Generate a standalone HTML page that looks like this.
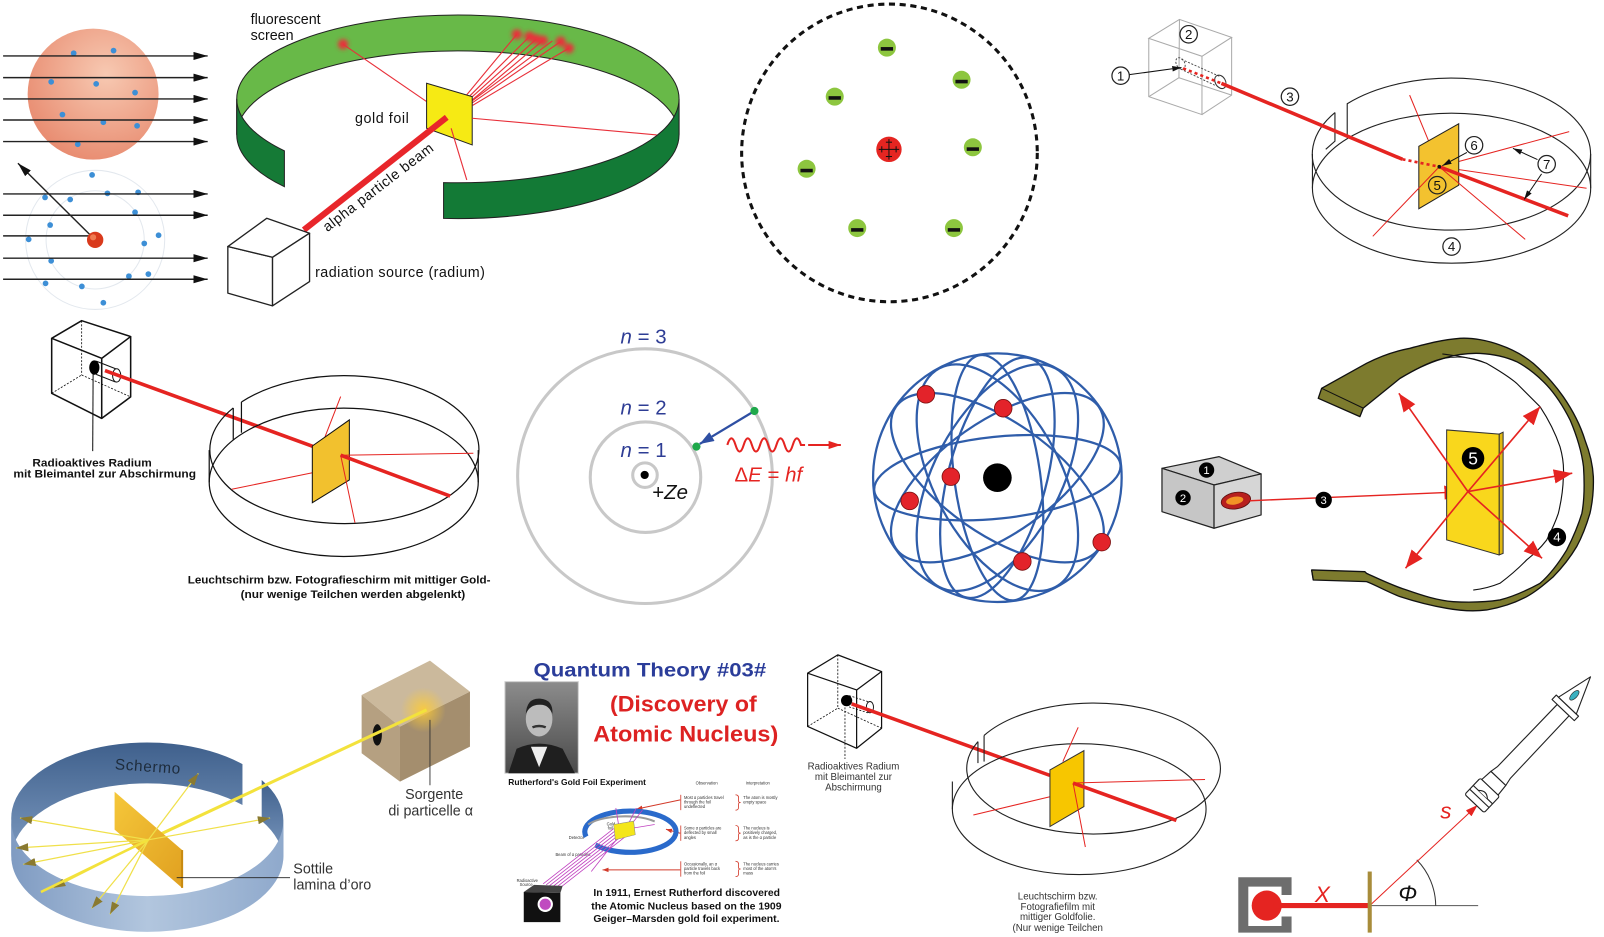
<!DOCTYPE html>
<html><head><meta charset="utf-8"><style>
html,body{margin:0;padding:0;background:#fff;}
svg{display:block;}
text{font-family:"Liberation Sans",sans-serif;}
</style></head><body>
<svg width="1604" height="937" viewBox="0 0 1568 916" xmlns="http://www.w3.org/2000/svg">
<defs>
 <radialGradient id="sph" cx="0.6" cy="0.35" r="0.75">
  <stop offset="0" stop-color="#f7c9b2"/><stop offset="1" stop-color="#e7866a"/>
 </radialGradient>
 <filter id="blur" x="-1" y="-1" width="3" height="3"><feGaussianBlur stdDeviation="2"/></filter>
 <marker id="ak" viewBox="0 0 14 8" refX="14" refY="4" markerWidth="14" markerHeight="8" orient="auto" markerUnits="userSpaceOnUse"><path d="M0,0 L14,4 L0,8 z" fill="#111"/></marker>
 <marker id="aks" viewBox="0 0 10 6" refX="10" refY="3" markerWidth="9" markerHeight="6" orient="auto" markerUnits="userSpaceOnUse"><path d="M0,0 L10,3 L0,6 z" fill="#111"/></marker>
 <marker id="ar" viewBox="0 0 18 14" refX="18" refY="7" markerWidth="18" markerHeight="14" orient="auto" markerUnits="userSpaceOnUse"><path d="M0,0 L18,7 L0,14 z" fill="#e52421"/></marker>
 <marker id="ars" viewBox="0 0 12 8" refX="12" refY="4" markerWidth="12" markerHeight="8" orient="auto" markerUnits="userSpaceOnUse"><path d="M0,0 L12,4 L0,8 z" fill="#e52421"/></marker>
 <marker id="ab" viewBox="0 0 14 10" refX="14" refY="5" markerWidth="14" markerHeight="10" orient="auto" markerUnits="userSpaceOnUse"><path d="M0,0 L14,5 L0,10 z" fill="#2e4fa3"/></marker>
 <marker id="ay" viewBox="0 0 12 8" refX="12" refY="4" markerWidth="12" markerHeight="8" orient="auto" markerUnits="userSpaceOnUse"><path d="M0,0 L12,4 L0,8 z" fill="#8a7a30"/></marker>
 <marker id="am" viewBox="0 0 8 6" refX="8" refY="3" markerWidth="6" markerHeight="5" orient="auto" markerUnits="userSpaceOnUse"><path d="M0,0 L8,3 L0,6 z" fill="#d23a2a"/></marker>
 <linearGradient id="backw" x1="0" y1="0" x2="0" y2="1"><stop offset="0" stop-color="#3f608c"/><stop offset="1" stop-color="#7f9cc2"/></linearGradient>
 <linearGradient id="frontw" x1="0" y1="0" x2="1" y2="0"><stop offset="0" stop-color="#7f9bc2"/><stop offset="0.5" stop-color="#b2c6de"/><stop offset="1" stop-color="#8fa9cc"/></linearGradient>
 <linearGradient id="goldI" x1="0" y1="0" x2="1" y2="1"><stop offset="0" stop-color="#f5c73a"/><stop offset="1" stop-color="#e0a020"/></linearGradient>
 <radialGradient id="glow"><stop offset="0" stop-color="#ffcc33"/><stop offset="1" stop-color="#ffcc33" stop-opacity="0"/></radialGradient>
 <linearGradient id="photo" x1="0" y1="0" x2="0" y2="1"><stop offset="0" stop-color="#8c8c8c"/><stop offset="1" stop-color="#4a4a4a"/></linearGradient>
</defs>

<!-- ============ PANEL A ============ -->
<g>
 <circle cx="91" cy="92" r="64" fill="url(#sph)"/>
 <g fill="#3d8fd6">
  <circle cx="72" cy="52" r="2.8"/><circle cx="111" cy="49.5" r="2.8"/><circle cx="50" cy="80" r="2.8"/>
  <circle cx="94" cy="82" r="2.8"/><circle cx="132" cy="90.5" r="2.8"/><circle cx="61" cy="112" r="2.8"/>
  <circle cx="101" cy="119.5" r="2.8"/><circle cx="134" cy="123" r="2.8"/><circle cx="76" cy="141" r="2.8"/>
 </g>
 <g fill="none" stroke="#e3e8ee" stroke-width="1">
  <circle cx="93" cy="234.5" r="48"/><circle cx="93" cy="234.5" r="68"/>
 </g>
 <g fill="#3d8fd6">
  <circle cx="90" cy="171" r="2.8"/><circle cx="105" cy="189" r="2.8"/><circle cx="135" cy="188" r="2.8"/>
  <circle cx="44" cy="193" r="2.8"/><circle cx="68.6" cy="195" r="2.8"/><circle cx="132" cy="207.5" r="2.8"/>
  <circle cx="49" cy="220" r="2.8"/><circle cx="155" cy="230" r="2.8"/><circle cx="28" cy="234" r="2.8"/>
  <circle cx="141" cy="238" r="2.8"/><circle cx="50" cy="255" r="2.8"/><circle cx="126" cy="270" r="2.8"/>
  <circle cx="145" cy="268" r="2.8"/><circle cx="44.5" cy="277" r="2.8"/><circle cx="80" cy="280" r="2.8"/>
  <circle cx="101" cy="296" r="2.8"/>
 </g>
 <g stroke="#222" stroke-width="1.4" marker-end="url(#ak)">
  <line x1="3" y1="54.7" x2="203" y2="54.7"/><line x1="3" y1="75.9" x2="203" y2="75.9"/>
  <line x1="3" y1="96.7" x2="203" y2="96.7"/><line x1="3" y1="117.3" x2="203" y2="117.3"/>
  <line x1="3" y1="138.4" x2="203" y2="138.4"/><line x1="3" y1="189.6" x2="203" y2="189.6"/>
  <line x1="3" y1="210.4" x2="203" y2="210.4"/><line x1="3" y1="252.4" x2="203" y2="252.4"/>
  <line x1="3" y1="273" x2="203" y2="273"/>
  <line x1="93" y1="234.5" x2="17.5" y2="159.6"/>
 </g>
 <line x1="3" y1="230.6" x2="92" y2="230.6" stroke="#222" stroke-width="1.4"/>
 <circle cx="93" cy="234.5" r="8" fill="#d93a1c"/>
 <circle cx="91" cy="232" r="3" fill="#f07a50"/>
</g>

<!-- ============ PANEL B ============ -->
<g>
 <path d="M231.4,96.7 A216.2 82 0 0 1 663.8,96.7 L663.8,131.7 A216.2 82 0 0 0 231.4,131.7 Z" fill="#68b948" stroke="#222" stroke-width="1"/>
 <path d="M231.4,96.7 A216.2 82 0 0 0 278,147.5 L278,182.5 A216.2 82 0 0 1 231.4,131.7 Z" fill="#157a36" stroke="#222" stroke-width="1"/>
 <g fill="#e8303a" filter="url(#blur)">
  <circle cx="335.4" cy="43.3" r="5"/><circle cx="505.2" cy="33.6" r="5"/><circle cx="517.5" cy="35.8" r="5"/>
  <circle cx="524" cy="38.4" r="5"/><circle cx="530.6" cy="39.7" r="5"/><circle cx="548" cy="40.7" r="5"/>
  <circle cx="556" cy="47.2" r="5"/>
 </g>
 <g stroke="#e8303a" stroke-width="1.1">
  <line x1="417" y1="99.3" x2="335.4" y2="43.3"/>
  <line x1="456" y1="93" x2="505.2" y2="33.6"/><line x1="458" y1="95" x2="517.5" y2="35.8"/>
  <line x1="459" y1="97" x2="524" y2="38.4"/><line x1="460" y1="99" x2="530.6" y2="39.7"/>
  <line x1="461" y1="101" x2="548" y2="40.7"/><line x1="462" y1="103" x2="556" y2="47.2"/>
  <line x1="461" y1="99" x2="540" y2="40"/>
 </g>
 <polygon points="417,81.4 461.6,94.5 461.6,141.7 417,125.4" fill="#f6ea14" stroke="#222" stroke-width="1"/>
 <g stroke="#e8303a" stroke-width="1.1">
  <line x1="461.6" y1="115.6" x2="642" y2="131.9"/>
  <line x1="441" y1="125.4" x2="456.3" y2="175.9"/>
 </g>
 <path d="M433.6,178.5 A216.2 82 0 0 0 663.8,96.7 L663.8,131.7 A216.2 82 0 0 1 433.6,213.5 Z" fill="#137a36" stroke="#222" stroke-width="1"/>
 <line x1="297" y1="224.8" x2="436.7" y2="114.7" stroke="#e8262b" stroke-width="6"/>
 <g fill="#fff" stroke="#222" stroke-width="1.3" stroke-linejoin="round">
  <polygon points="222.7,241 266.4,251.5 266.4,299 222.7,286.6"/>
  <polygon points="222.7,241 260.7,213.4 302.6,228 266.4,251.5"/>
  <polygon points="266.4,251.5 302.6,228 302.6,275.2 266.4,299"/>
 </g>
 <text x="245" y="23.5" font-size="14" fill="#111">fluorescent</text>
 <text x="245" y="39" font-size="14" fill="#111">screen</text>
 <text x="347" y="120" font-size="14" fill="#111" textLength="52.6">gold foil</text>
 <text x="308" y="271" font-size="14" fill="#111" textLength="166">radiation source (radium)</text>
 <text transform="translate(320,227) rotate(-37.5)" x="0" y="0" font-size="14" fill="#111" textLength="132">alpha particle beam</text>
</g>

<!-- ============ PANEL C ============ -->
<g>
 <ellipse cx="869.5" cy="149.5" rx="144.5" ry="145.5" fill="none" stroke="#111" stroke-width="3" stroke-dasharray="6 4.5"/>
 <g fill="#8dc63f">
  <circle cx="867" cy="46.6" r="8.8"/><circle cx="940" cy="78" r="8.8"/><circle cx="816" cy="94.5" r="8.8"/>
  <circle cx="951" cy="144" r="8.8"/><circle cx="788.5" cy="165" r="8.8"/><circle cx="838" cy="223" r="8.8"/>
  <circle cx="932.5" cy="223" r="8.8"/>
 </g>
 <g fill="#111">
  <rect x="861" y="46" width="12" height="3.5"/><rect x="934" y="78" width="12" height="3.5"/>
  <rect x="810" y="94" width="12" height="3.5"/><rect x="945" y="144" width="12" height="3.5"/>
  <rect x="782.5" y="165" width="12" height="3.5"/><rect x="832" y="223" width="12" height="3.5"/>
  <rect x="926.5" y="223" width="12" height="3.5"/>
 </g>
 <circle cx="869" cy="146" r="12.4" fill="#e52521"/>
 <g stroke="#111" stroke-width="1">
  <line x1="869" y1="136" x2="869" y2="156"/><line x1="859" y1="146" x2="879" y2="146"/>
  <line x1="866" y1="139" x2="872" y2="139"/><line x1="866" y1="153" x2="872" y2="153"/>
  <line x1="862" y1="143" x2="862" y2="149"/><line x1="876" y1="143" x2="876" y2="149"/>
 </g>
</g>

<!-- ============ PANEL D ============ -->
<g>
 <g fill="none" stroke="#aaa" stroke-width="1">
  <polygon points="1123,37.5 1153,19 1204,36.5 1175,55"/>
  <polyline points="1123,37.5 1123,94.5 1175,112 1175,55"/>
  <polyline points="1175,112 1204,93 1204,36.5"/>
  <polyline points="1153,19 1152.5,76 1123,94.5"/>
  <line x1="1152.5" y1="76" x2="1204" y2="93"/>
 </g>
 <g fill="none" stroke="#444" stroke-width="0.9" stroke-dasharray="2 1.5">
  <line x1="1155" y1="58" x2="1193" y2="75"/><line x1="1151" y1="66" x2="1189" y2="84"/>
  <ellipse cx="1154" cy="62" rx="4" ry="6" transform="rotate(-30 1154 62)"/>
 </g>
 <ellipse cx="1193" cy="80" rx="5" ry="7" transform="rotate(-30 1193 80)" fill="none" stroke="#333" stroke-width="1"/>
 <line x1="1156.6" y1="66.8" x2="1194" y2="81.5" stroke="#e52421" stroke-width="2.6" stroke-dasharray="3 3"/>
 <g fill="none" stroke="#222" stroke-width="1.1">
  <path d="M1317,101.4 A136 74.3 0 1 1 1305,110"/>
  <ellipse cx="1419" cy="184" rx="136" ry="73.3"/>
  <line x1="1283" y1="150.5" x2="1283" y2="184"/><line x1="1555" y1="150.5" x2="1555" y2="184"/>
  <polyline points="1305,110 1305,138 1296,146"/>
  <line x1="1317" y1="101" x2="1317" y2="134"/>
 </g>
 <line x1="1194" y1="81.5" x2="1371" y2="155.7" stroke="#e52421" stroke-width="3.5"/>
 <g stroke="#e52421" stroke-width="1">
  <line x1="1378" y1="93" x2="1407" y2="163"/>
  <line x1="1407" y1="163" x2="1534" y2="128.7"/>
  <line x1="1407" y1="163" x2="1551" y2="184"/>
 </g>
 <polygon points="1387,143 1426,121 1426,181 1387,204" fill="#f3c22f" stroke="#222" stroke-width="1"/>
 <line x1="1371" y1="155.7" x2="1407" y2="163" stroke="#e52421" stroke-width="2.6" stroke-dasharray="3 3"/>
 <g stroke="#e52421" stroke-width="1">
  <line x1="1407" y1="163" x2="1342" y2="231"/>
  <line x1="1407" y1="163" x2="1491" y2="234"/>
 </g>
 <line x1="1407" y1="163" x2="1533" y2="211" stroke="#e52421" stroke-width="3.5"/>
 <circle cx="1407" cy="163" r="1.8" fill="#111"/>
 <g stroke="#111" stroke-width="1" marker-end="url(#aks)" fill="none">
  <line x1="1104" y1="73" x2="1155" y2="66"/>
  <line x1="1434" y1="149" x2="1410" y2="162"/>
  <line x1="1503" y1="156" x2="1479" y2="145"/>
  <line x1="1507" y1="170" x2="1490" y2="195"/>
 </g>
 <g fill="#fff" stroke="#222" stroke-width="1.2">
  <circle cx="1095.5" cy="74" r="8.5"/><circle cx="1162" cy="33.5" r="8.5"/><circle cx="1261" cy="94.5" r="8.5"/>
  <circle cx="1419" cy="241" r="8.5"/><circle cx="1441" cy="142" r="8.5"/><circle cx="1512" cy="160.5" r="8.5"/>
 </g>
 <circle cx="1405" cy="181" r="8.5" fill="none" stroke="#222" stroke-width="1.2"/>
 <g font-size="13" fill="#111" text-anchor="middle">
  <text x="1095.5" y="78.5">1</text><text x="1162" y="38">2</text><text x="1261" y="99">3</text>
  <text x="1419" y="245.5">4</text><text x="1405" y="185.5">5</text><text x="1441" y="146.5">6</text>
  <text x="1512" y="165">7</text>
 </g>
</g>

<!-- ============ PANEL E ============ -->
<g>
 <g fill="none" stroke="#111" stroke-width="1.5" stroke-linejoin="round">
  <polygon points="50.5,330.7 79.8,313.5 127.7,329 99.4,350.3"/>
  <polyline points="50.5,330.7 50.5,384.5 99.4,409 99.4,350.3"/>
  <polyline points="99.4,409 127.7,388 127.7,329"/>
 </g>
 <g fill="none" stroke="#111" stroke-width="0.8" stroke-dasharray="2 1.5">
  <line x1="79.8" y1="313.5" x2="79.8" y2="366.6"/><line x1="50.5" y1="384.5" x2="79.8" y2="366.6"/>
  <line x1="79.8" y1="366.6" x2="127.7" y2="388"/>
 </g>
 <g fill="none" stroke="#111" stroke-width="1">
  <line x1="94" y1="353" x2="113" y2="360.5"/><line x1="94" y1="366" x2="113" y2="373.5"/>
  <ellipse cx="114" cy="367" rx="4" ry="6.5"/>
  <line x1="91" y1="366" x2="90.6" y2="441"/>
 </g>
 <ellipse cx="92.2" cy="359.3" rx="5" ry="7" fill="#000"/>
 <line x1="102.6" y1="362.3" x2="306.3" y2="436.6" stroke="#e52421" stroke-width="3.5"/>
 <g fill="none" stroke="#111" stroke-width="1.2">
  <path d="M236,393 A131.5 72.3 0 1 1 228,398.8"/>
  <ellipse cx="336" cy="471.5" rx="131.5" ry="72.5"/>
  <line x1="204.5" y1="440" x2="204.5" y2="471.5"/><line x1="467.5" y1="440" x2="467.5" y2="471.5"/>
  <line x1="228" y1="398.8" x2="228" y2="430"/><line x1="236" y1="393" x2="236" y2="423"/>
 </g>
 <g stroke="#e52421" stroke-width="1">
  <line x1="306" y1="462" x2="226.5" y2="478.3"/>
  <line x1="317.7" y1="427" x2="333" y2="387.7"/>
 </g>
 <polygon points="305.3,436 341.5,410.5 341.5,469.2 305.3,491.4" fill="#f2c12e" stroke="#111" stroke-width="1"/>
 <g stroke="#e52421" stroke-width="1">
  <line x1="333" y1="445" x2="462.7" y2="443.1"/>
  <line x1="333" y1="445" x2="347" y2="511"/>
 </g>
 <line x1="333" y1="445" x2="440" y2="484.9" stroke="#e52421" stroke-width="3.5"/>
 <g font-weight="bold" font-size="11" fill="#111" text-anchor="middle">
  <text x="90" y="456.2" textLength="116.7" lengthAdjust="spacingAndGlyphs">Radioaktives Radium</text>
  <text x="102.3" y="466.6" textLength="178.6" lengthAdjust="spacingAndGlyphs">mit Bleimantel zur Abschirmung</text>
  <text x="331.5" y="570.2" textLength="296" lengthAdjust="spacingAndGlyphs">Leuchtschirm bzw. Fotografieschirm mit mittiger Gold-</text>
  <text x="345" y="584.8" textLength="219.6" lengthAdjust="spacingAndGlyphs">(nur wenige Teilchen werden abgelenkt)</text>
 </g>
</g>

<!-- ============ PANEL F ============ -->
<g>
 <g fill="none" stroke="#c8c8c8" stroke-width="3">
  <circle cx="630.5" cy="465.5" r="124.5"/>
  <circle cx="631" cy="466.5" r="54"/>
  <circle cx="630.5" cy="464.5" r="12"/>
 </g>
 <circle cx="630.2" cy="464.3" r="4" fill="#000"/>
 <line x1="737.5" y1="401.8" x2="684" y2="434" stroke="#2e4fa3" stroke-width="2.2" marker-end="url(#ab)"/>
 <circle cx="737.5" cy="401.8" r="4" fill="#1ea84a"/>
 <circle cx="680.8" cy="436.6" r="4" fill="#1ea84a"/>
 <path d="M711,435 q4,-13 8,0 t8,0 t8,0 t8,0 t8,0 t8,0 t8,0 t8,0 t8,0 l4,0" fill="none" stroke="#e52421" stroke-width="2"/>
 <line x1="790" y1="435" x2="822" y2="435" stroke="#e52421" stroke-width="2" marker-end="url(#ars)"/>
 <g font-size="20" fill="#2e3d95">
  <text x="606.6" y="335.6"><tspan font-style="italic">n</tspan> = 3</text>
  <text x="606.6" y="405"><tspan font-style="italic">n</tspan> = 2</text>
  <text x="606.6" y="447"><tspan font-style="italic">n</tspan> = 1</text>
 </g>
 <text x="637.6" y="488" font-size="20" fill="#111">+<tspan font-style="italic">Ze</tspan></text>
 <text x="718" y="470.8" font-size="20" fill="#e52421">Δ<tspan font-style="italic">E</tspan> = <tspan font-style="italic">hf</tspan></text>
</g>

<!-- ============ PANEL G ============ -->
<g transform="translate(975,467)" fill="none" stroke="#2f5daa" stroke-width="2.2">
 <circle r="121.5"/>
 <ellipse rx="121" ry="40" transform="rotate(-6)"/>
 <ellipse rx="121" ry="55" transform="rotate(35)"/>
 <ellipse rx="121" ry="55" transform="rotate(-35)"/>
 <ellipse rx="121" ry="42" transform="rotate(82)"/>
 <ellipse rx="121" ry="48" transform="rotate(105)"/>
 <ellipse rx="121" ry="62" transform="rotate(62)"/>
 <ellipse rx="121" ry="62" transform="rotate(-62)"/>
</g>
<circle cx="975" cy="467" r="14" fill="#000"/>
<g fill="#e3232a" stroke="#7a1010" stroke-width="0.8">
 <circle cx="905.1" cy="385.5" r="8.6"/><circle cx="980.7" cy="399.1" r="8.6"/><circle cx="929.5" cy="466" r="8.6"/>
 <circle cx="889.3" cy="489.7" r="8.6"/><circle cx="999.4" cy="548.9" r="8.6"/><circle cx="1077" cy="530" r="8.6"/>
</g>

<!-- ============ PANEL H ============ -->
<g>
 <path d="M1292,379.6 L1335.9,355.2 C1350,348 1365,343 1378.3,340.5 C1395,336 1410,332 1427.2,330.7 C1440,330 1455,333 1466.3,337.3 C1480,342 1490,348 1498.9,355.2 C1510,365 1520,376 1528.2,387.8 C1538,402 1545,416 1549.4,430.1 C1554,442 1557,454 1557.6,466 C1558,478 1557,490 1554.3,501.8 C1551,513 1547,524 1541.3,534.4 C1535,545 1527,555 1518.5,563.8 C1510,571 1502,578 1492.4,583.3 C1480,590 1467,594 1453.3,596.3 C1440,598 1427,597 1414.2,594.7 C1398,592 1383,588 1368.6,583.3 C1355,578 1345,572 1335.9,568.6 L1283.8,567 L1282.2,557.2 L1334.3,558.9 L1335.9,560.5 C1348,566 1360,572 1375.1,576.8 C1390,582 1405,587 1420.7,588.2 C1435,589 1450,589 1466.3,586.5 C1480,583 1493,577 1505.5,570.2 C1515,562 1524,550 1531.6,537.6 C1538,525 1543,513 1546.4,501.8 C1549,488 1549,472 1548,456.2 C1546,440 1541,425 1534.9,410.6 C1528,397 1521,386 1512,376.4 C1503,367 1493,359 1482.7,353.6 C1470,348 1458,346 1446.9,345.5 C1434,345 1422,347 1411,350.4 C1395,355 1382,362 1368.6,369.9 L1332.7,399 L1329.4,407.3 L1288.7,389.4 Z" fill="#7d7b2e" stroke="#111" stroke-width="1.3" stroke-linejoin="round"/>
 <line x1="1292" y1="379.6" x2="1332.7" y2="399" stroke="#111" stroke-width="1"/>
 <line x1="1282.2" y1="557.2" x2="1283.8" y2="567" stroke="#111" stroke-width="1"/>
 <path d="M1368.6,369.9 C1385,360 1400,352 1411,350.4 C1425,348 1440,349 1453.3,355.2" fill="none" stroke="#111" stroke-width="0.8"/>
 <path d="M1410,346 C1425,348 1440,350 1453.3,355.2 C1465,362 1475,368 1482.7,374.8 C1492,384 1500,392 1505.5,397.6 C1515,412 1521,425 1525,436.7 C1528,447 1529,456 1528.3,466 C1528,480 1526,491 1523.4,501.8 C1520,512 1516,520 1512,527.9 C1505,537 1499,542 1492.4,547.4 C1485,555 1476,563 1466.3,570.2 C1457,574 1448,576 1440.2,576.8" fill="none" stroke="#111" stroke-width="1.1"/>
 <g stroke="#222" stroke-width="1.2" stroke-linejoin="round">
  <polygon points="1135.9,457.8 1191.8,446.4 1232.8,463.3 1186.8,474.1" fill="#cfcfcf"/>
  <polygon points="1135.9,457.8 1186.8,474.1 1186.8,516.4 1135.9,500.2" fill="#c6c6c6"/>
  <polygon points="1186.8,474.1 1232.8,463.3 1232.8,503.4 1186.8,516.4" fill="#d6d6d6"/>
 </g>
 <ellipse cx="1208.2" cy="489.4" rx="14.5" ry="8" fill="#b8201e" stroke="#5a1010" stroke-width="0.8" transform="rotate(-10 1208.2 489.4)"/>
 <ellipse cx="1207" cy="489.4" rx="8.5" ry="3.8" fill="#f29425" transform="rotate(-10 1207 489.4)"/>
 <line x1="1222" y1="489.5" x2="1430" y2="480.8" stroke="#e52421" stroke-width="1.4" marker-end="url(#ar)"/>
 <g stroke="#333" stroke-width="1">
  <polygon points="1465.5,424.4 1469.4,422.5 1469.4,541 1465.5,542.5" fill="#e0b810"/>
  <polygon points="1414.2,420.3 1465.5,424.4 1465.5,542.5 1414.2,527.8" fill="#f9d71c"/>
 </g>
 <g stroke="#e52421" stroke-width="1.6" marker-end="url(#ar)">
  <line x1="1435" y1="480.6" x2="1367.5" y2="384.5"/>
  <line x1="1435" y1="480.6" x2="1505.6" y2="397.5"/>
  <line x1="1435" y1="480.6" x2="1537" y2="462.6"/>
  <line x1="1435" y1="480.6" x2="1507.5" y2="545.8"/>
  <line x1="1435" y1="480.6" x2="1374" y2="555.5"/>
 </g>
 <g fill="#000">
  <circle cx="1179.5" cy="459.5" r="7.5"/><circle cx="1156.5" cy="486.6" r="7.5"/>
  <circle cx="1294" cy="488.7" r="8"/><circle cx="1522" cy="525" r="9"/><circle cx="1440" cy="448" r="11"/>
 </g>
 <g fill="#fff" text-anchor="middle">
  <text x="1179.5" y="463.5" font-size="11">1</text><text x="1156.5" y="490.6" font-size="11">2</text>
  <text x="1294" y="492.8" font-size="11">3</text><text x="1522" y="529.5" font-size="13">4</text>
  <text x="1440" y="454" font-size="17">5</text>
 </g>
</g>

<!-- ============ PANEL I ============ -->
<g>
 <path d="M11,802 A133 74 0 0 1 237,747 L237,787 A133 74 0 0 0 11,842 Z" fill="url(#backw)"/>
 <path d="M255.8,762.5 A133 74 0 0 1 277,802 L277,842 A133 74 0 0 0 255.8,802.5 Z" fill="url(#backw)"/>
 <circle cx="413.8" cy="694" r="28" fill="url(#glow)"/>
 <g stroke-linejoin="round">
  <polygon points="353.5,679.4 420.3,645.8 459.4,676.1 391,710.3" fill="#cbb99c"/>
  <polygon points="353.5,679.4 391,710.3 391,764.1 353.5,736.4" fill="#b5a081"/>
  <polygon points="391,710.3 459.4,676.1 459.4,729.9 391,764.1" fill="#a48e6e"/>
 </g>
 <circle cx="413.8" cy="694" r="22" fill="url(#glow)" opacity="0.85"/>
 <ellipse cx="368.8" cy="718.4" rx="4.5" ry="10.5" fill="#111"/>
 <line x1="420.3" y1="703.8" x2="420.3" y2="767.6" stroke="#333" stroke-width="0.9"/>
 <line x1="417" y1="694" x2="145" y2="821" stroke="#f3e23c" stroke-width="3"/>
 <polygon points="112,774 178,831 178,868 112,811" fill="url(#goldI)"/>
 <line x1="178" y1="831" x2="178" y2="868" stroke="#c88a10" stroke-width="2"/>
 <path d="M11,802 A133 74 0 0 0 277,802 L277,837 A133 74 0 0 1 11,837 Z" fill="url(#frontw)"/>
 <g stroke="#f0e04a" stroke-width="1.2" fill="none" marker-end="url(#ay)">
  <line x1="145" y1="821" x2="193.9" y2="756"/>
  <line x1="145" y1="821" x2="19.5" y2="799.7"/>
  <line x1="145" y1="821" x2="264" y2="799.7"/>
  <line x1="145" y1="821" x2="15.6" y2="829"/>
  <line x1="145" y1="821" x2="22.8" y2="845"/>
  <line x1="145" y1="821" x2="52" y2="868"/>
  <line x1="145" y1="821" x2="89.6" y2="888"/>
  <line x1="145" y1="821" x2="107.5" y2="893.8"/>
 </g>
 <line x1="145" y1="821" x2="40" y2="872" stroke="#f3e23c" stroke-width="2.5"/>
 <line x1="172.7" y1="858" x2="283.5" y2="858" stroke="#222" stroke-width="0.9"/>
 <text transform="translate(112,752) rotate(4)" font-size="15" fill="#1e2c3c" textLength="64">Schermo</text>
 <g font-size="14" fill="#333">
  <text x="396" y="781">Sorgente</text>
  <text x="379.6" y="797">di particelle α</text>
  <text x="286.7" y="854">Sottile</text>
  <text x="286.7" y="869.5">lamina d’oro</text>
 </g>
</g>

<!-- ============ PANEL J ============ -->
<g>
 <text x="521.5" y="661.5" font-size="19" font-weight="bold" fill="#2b3d9a" textLength="227.5" lengthAdjust="spacingAndGlyphs">Quantum Theory #03#</text>
 <text x="596.3" y="695.7" font-size="22" font-weight="bold" fill="#dd2222" textLength="143.4" lengthAdjust="spacingAndGlyphs">(Discovery of</text>
 <text x="579.9" y="725" font-size="22" font-weight="bold" fill="#dd2222" textLength="180.9" lengthAdjust="spacingAndGlyphs">Atomic Nucleus)</text>
 <rect x="493.6" y="666.4" width="71.7" height="89.5" fill="url(#photo)" stroke="#ccc" stroke-width="1"/>
 <path d="M497,755.9 L505,732 Q527,722 550,732 L562,755.9 Z" fill="#1f1f1f"/>
 <polygon points="519,730 535,730 527,750" fill="#eee"/>
 <ellipse cx="527" cy="703" rx="13" ry="17" fill="#bcbcbc"/>
 <path d="M514,698 Q515,682 528,683 Q541,684 540,698 Q536,688 527,689 Q518,689 514,698 Z" fill="#222"/>
 <path d="M520,710 Q527,707 534,710 L533,712 Q527,710 521,712 Z" fill="#333"/>
 <text x="496.9" y="767.4" font-size="8.5" font-weight="bold" fill="#111" textLength="134.6" lengthAdjust="spacingAndGlyphs">Rutherford's Gold Foil Experiment</text>
 <g font-size="4" fill="#333">
  <text x="680" y="767">Observation</text><text x="729" y="767">Interpretation</text>
  <text x="668.6" y="781">Most α particles travel</text><text x="668.6" y="785.5">through the foil</text><text x="668.6" y="790">undeflected</text>
  <text x="726.6" y="781">The atom is mostly</text><text x="726.6" y="785.5">empty space</text>
  <text x="668.6" y="811">Some α particles are</text><text x="668.6" y="815.5">deflected by small</text><text x="668.6" y="820">angles</text>
  <text x="726.6" y="811">The nucleus is</text><text x="726.6" y="815.5">positively charged,</text><text x="726.6" y="820">as is the α particle</text>
  <text x="668.6" y="846">Occasionally, an α</text><text x="668.6" y="850.5">particle travels back</text><text x="668.6" y="855">from the foil</text>
  <text x="726.6" y="846">The nucleus carries</text><text x="726.6" y="850.5">most of the atom's</text><text x="726.6" y="855">mass</text>
  <text x="556" y="820">Detector</text><text x="543" y="837">Beam of α particles</text>
  <text x="505" y="862">Radioactive</text><text x="508" y="866">Source</text>
  <text x="593" y="807">Gold</text><text x="594" y="811">foil</text>
 </g>
 <g fill="none" stroke="#d23a2a" stroke-width="0.8">
  <line x1="665.5" y1="777" x2="665.5" y2="792"/><line x1="665.5" y1="807" x2="665.5" y2="822"/><line x1="665.5" y1="842" x2="665.5" y2="857"/>
  <path d="M719,777 q3,0 3,3 v3 q0,1.5 2,1.5 q-2,0 -2,1.5 v3 q0,3 -3,3"/>
  <path d="M719,807 q3,0 3,3 v3 q0,1.5 2,1.5 q-2,0 -2,1.5 v3 q0,3 -3,3"/>
  <path d="M719,842 q3,0 3,3 v3 q0,1.5 2,1.5 q-2,0 -2,1.5 v3 q0,3 -3,3"/>
 </g>
 <g stroke="#d23a2a" stroke-width="1" marker-end="url(#am)">
  <line x1="665" y1="782" x2="622" y2="791"/>
  <line x1="665" y1="814.6" x2="651" y2="810.7"/>
  <line x1="665" y1="850.4" x2="589" y2="850.4"/>
 </g>
 <path d="M573,818 A44.6 20.2 0 1 1 582,826" fill="none" stroke="#2a6acb" stroke-width="5"/>
 <path d="M575,806 A40 15 0 0 1 640,803" fill="none" stroke="#9a9a9a" stroke-width="2"/>
 <g stroke="#c040c0" stroke-width="0.8">
  <line x1="531" y1="864" x2="600" y2="810"/><line x1="534" y1="865" x2="603" y2="811"/>
  <line x1="537" y1="866" x2="606" y2="812"/><line x1="540" y1="867" x2="609" y2="813"/>
  <line x1="543" y1="868" x2="612" y2="814"/><line x1="546" y1="869" x2="615" y2="815"/>
  <line x1="612" y1="810" x2="622" y2="790"/><line x1="614" y1="810" x2="628" y2="792"/>
  <line x1="616" y1="810" x2="640" y2="806"/><line x1="608" y1="814" x2="578" y2="852"/>
  <line x1="605" y1="808" x2="602" y2="790"/>
 </g>
 <polygon points="599.9,806 619.4,802.7 621,816 601.5,821" fill="#f4e61a" stroke="#888" stroke-width="0.5"/>
 <polygon points="512,872 522,865 550,866 547.8,873" fill="#444"/>
 <polygon points="512,872 547.8,873 547.8,901.5 512,901.5" fill="#111"/>
 <circle cx="533" cy="884" r="7.5" fill="#fff"/>
 <circle cx="533" cy="884" r="5.5" fill="#c04ac0"/>
 <g font-size="10" font-weight="bold" fill="#111">
  <text x="580" y="875.9" textLength="182.5" lengthAdjust="spacingAndGlyphs">In 1911, Ernest Rutherford discovered</text>
  <text x="578" y="888.9" textLength="186" lengthAdjust="spacingAndGlyphs">the Atomic Nucleus based on the 1909</text>
  <text x="580" y="901.3" textLength="182" lengthAdjust="spacingAndGlyphs">Geiger–Marsden gold foil experiment.</text>
 </g>
</g>

<!-- ============ PANEL K ============ -->
<g>
 <g fill="none" stroke="#111" stroke-width="1.2" stroke-linejoin="round">
  <polygon points="789.5,658.1 819,640.2 861.8,656.5 837.4,674.5"/>
  <polyline points="789.5,658.1 789.5,710.2 837.4,731.5 837.4,674.5"/>
  <polyline points="837.4,731.5 861.8,711.9 861.8,656.5"/>
 </g>
 <g fill="none" stroke="#111" stroke-width="0.8" stroke-dasharray="2 1.5">
  <line x1="819" y1="640.2" x2="819" y2="692.3"/><line x1="789.5" y1="710.2" x2="819" y2="692.3"/>
  <line x1="819" y1="692.3" x2="861.8" y2="711.9"/><line x1="826" y1="688" x2="826" y2="742"/>
  <line x1="830" y1="680" x2="849" y2="686"/><line x1="830" y1="691" x2="849" y2="697"/>
 </g>
 <ellipse cx="850.4" cy="691.3" rx="3.5" ry="5.5" fill="none" stroke="#111" stroke-width="0.9"/>
 <circle cx="827.6" cy="684.9" r="5.5" fill="#000"/>
 <line x1="832.5" y1="688" x2="1026.3" y2="758" stroke="#e52421" stroke-width="3.5"/>
 <g fill="none" stroke="#222" stroke-width="1.1">
  <path d="M962,719 A124 64 0 1 1 956,725"/>
  <ellipse cx="1055" cy="791" rx="124" ry="64"/>
  <line x1="931" y1="764" x2="931" y2="791"/>
  <line x1="956" y1="725" x2="956" y2="746"/><line x1="962" y1="719" x2="962" y2="744.5"/>
 </g>
 <g stroke="#e52421" stroke-width="1">
  <line x1="1039" y1="744.5" x2="1054" y2="711"/>
  <line x1="1030" y1="778" x2="951.5" y2="796.7"/>
 </g>
 <polygon points="1026.4,752.7 1059.6,733.8 1059.6,788.5 1026.4,808" fill="#f7c600" stroke="#333" stroke-width="1"/>
 <g stroke="#e52421" stroke-width="1">
  <line x1="1049" y1="765.5" x2="1178" y2="762"/>
  <line x1="1049" y1="765.5" x2="1061" y2="828"/>
 </g>
 <line x1="1049" y1="765.5" x2="1150" y2="802" stroke="#e52421" stroke-width="3.5"/>
 <g font-size="9.5" fill="#333" text-anchor="middle">
  <text x="834.3" y="752.4">Radioaktives Radium</text>
  <text x="834.3" y="762.4">mit Bleimantel zur</text>
  <text x="834.3" y="773">Abschirmung</text>
  <text x="1034" y="879.4">Leuchtschirm bzw.</text>
  <text x="1034" y="889.4">Fotografiefilm mit</text>
  <text x="1034" y="899.6">mittiger Goldfolie.</text>
  <text x="1034" y="910">(Nur wenige Teilchen</text>
 </g>
</g>

<!-- ============ PANEL L ============ -->
<g>
 <path d="M1210.5,857.6 H1262.6 V875 H1252.8 V866.7 H1220.3 V905.2 H1252.8 V896 H1262.6 V911.7 H1210.5 Z" fill="#6d6d6d"/>
 <circle cx="1238.3" cy="885.3" r="14.7" fill="#e52421"/>
 <line x1="1245" y1="885.3" x2="1339" y2="885.3" stroke="#e52421" stroke-width="5"/>
 <line x1="1339" y1="885.3" x2="1445" y2="885.3" stroke="#555" stroke-width="1"/>
 <path d="M1403.5,885.3 A64.5 64.5 0 0 0 1385,840.6" fill="none" stroke="#333" stroke-width="1"/>
 <line x1="1339" y1="885.3" x2="1444.5" y2="786.9" stroke="#e52421" stroke-width="1" marker-end="url(#ars)"/>
 <rect x="1337" y="852" width="4" height="59.7" fill="#a88c3a"/>
 <text x="1285.4" y="881.7" font-family="Liberation Serif,serif" font-style="italic" font-size="22" fill="#e52421">X</text>
 <text x="1367" y="881" font-family="Liberation Serif,serif" font-style="italic" font-size="22" fill="#111">Φ</text>
 <text x="1408" y="800" font-family="Liberation Serif,serif" font-style="italic" font-size="22" fill="#e52421">s</text>
 <g transform="translate(1440,787) rotate(-46.5)" fill="#fff" stroke="#222" stroke-width="1.1" stroke-linejoin="round">
  <rect x="2" y="-13" width="22" height="26" rx="2"/>
  <line x1="9" y1="-13" x2="9" y2="13"/><line x1="14" y1="-13" x2="14" y2="13"/>
  <path d="M14,-6 Q20,0 14,6"/>
  <polygon points="24,-11 36,-10 36,10 24,11"/>
  <polygon points="36,-10 44,-8.5 128,-8 128,8 44,8.5 36,10"/>
  <rect x="128" y="-15" width="6" height="30"/>
  <polygon points="134,-12 170,-3 134,12"/>
  <ellipse cx="146" cy="-2" rx="6" ry="2.8" fill="#3ab0c0" stroke="#222" stroke-width="0.6"/>
 </g>
</g>
</svg>
</body></html>
